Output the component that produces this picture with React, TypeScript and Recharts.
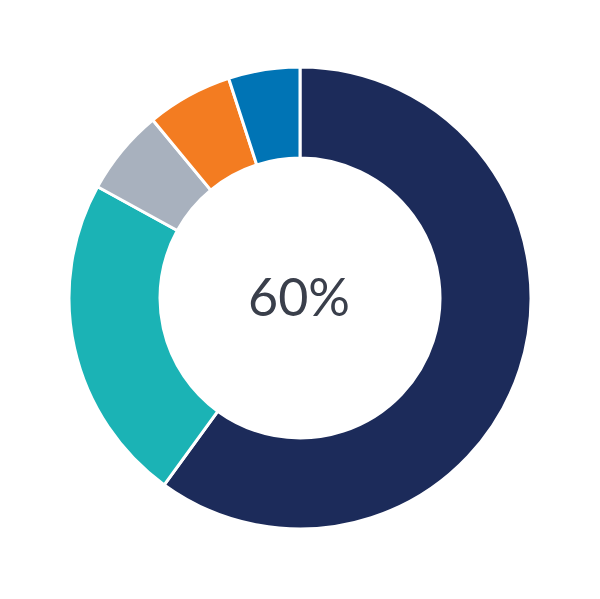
import { useEffect } from "react";
import { PieChart, Pie, Cell } from "recharts";

const LABELS = ["Navy", "Teal", "Gray", "Orange", "Blue"];
const VALUES = [60, 23, 6, 6, 5];
const COLORS = ["#1c2b5a", "#1bb3b5", "#a8b1be", "#f37c21", "#0074b5"];
const CENTER_TEXT = "60%";

export default function App() {
  useEffect(() => {
    document.body.style.margin = "0";
  }, []);

  const data = LABELS.map((name, i) => ({ name, value: VALUES[i] }));

  return (
    <div style={{ width: 600, height: 599, background: "#fff" }}>
      <PieChart width={600} height={599} margin={{ top: 0, right: 0, bottom: 0, left: 0 }}>
        <Pie
          data={data}
          dataKey="value"
          nameKey="name"
          cx={300}
          cy={298}
          outerRadius={231}
          innerRadius={140}
          startAngle={90}
          endAngle={-270}
          stroke="#ffffff"
          strokeWidth={3}
          isAnimationActive={false}
        >
          {data.map((d, i) => (
            <Cell key={d.name} fill={COLORS[i]} />
          ))}
        </Pie>
        <text
          x={299}
          y={296}
          textAnchor="middle"
          dominantBaseline="central"
          fontFamily="Lato, sans-serif"
          fontSize={52}
          fill="#3a3f4b"
        >
          {CENTER_TEXT}
        </text>
      </PieChart>
    </div>
  );
}
